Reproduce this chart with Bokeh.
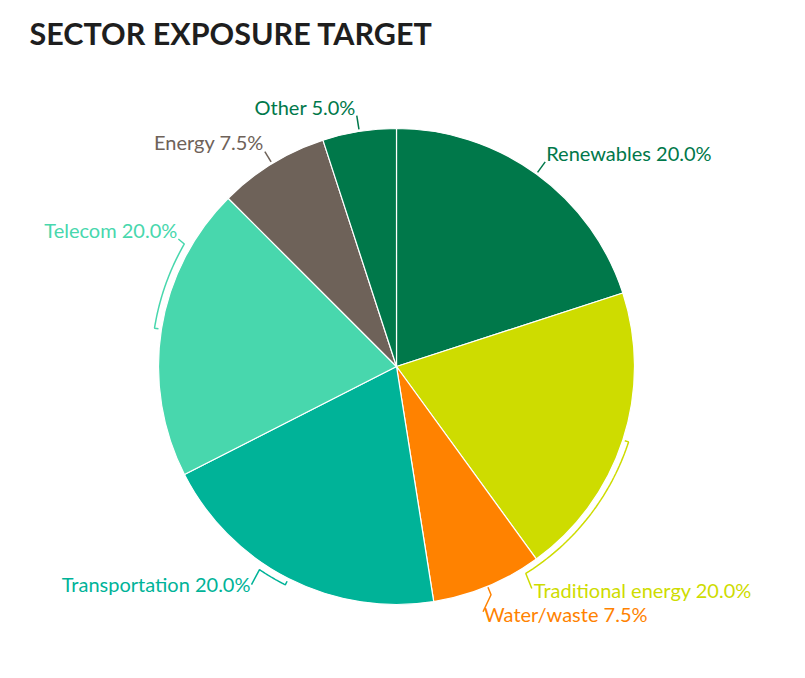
import math
from bokeh.plotting import figure
from bokeh.models import Range1d, ColumnDataSource
from bokeh.core.properties import value
from bokeh.embed import file_html
from bokeh.resources import INLINE

# ---- data ----
categories = ["Renewables", "Traditional energy", "Water/waste", "Transportation",
              "Telecom", "Energy", "Other"]
shares = [20.0, 20.0, 7.5, 20.0, 20.0, 7.5, 5.0]
title_text = "SECTOR EXPOSURE TARGET"

# ---- style ----
colors = ["#00784A", "#CEDC00", "#FF8200", "#00B398", "#48D7AD", "#6E6259", "#00784A"]
W, H = 789, 662
CX, CY, R = 396, 296, 238
FONT = "Lato"
LABEL_RAISE = 9
TITLE_RAISE = 13

# connector layout per slice: radial tick r0->r1 at mid angle, optional arc to angle,
# optional tail offset, then label offset and alignment
conn = [
    dict(r0=240, r1=253, arc=None, tail=None, lab=(1, 0), align="left"),
    dict(r0=240, r1=244, arc=-58, tail=(6, -15), lab=(2, -11), align="left"),
    dict(r0=239, r1=247, arc=None, tail=(-8, -17), lab=(1, -11), align="left"),
    dict(r0=241, r1=245, arc=-124, tail=(-8, -15), lab=(-1, -8), align="right"),
    dict(r0=241, r1=245, arc=150, tail=(-6, 5), lab=(-1, 0), align="right"),
    dict(r0=240, r1=252, arc=None, tail=None, lab=(-1, 1), align="right"),
    dict(r0=240, r1=254, arc=None, tail=None, lab=(-1, 0), align="right"),
]

total = sum(shares)
starts, ends, mids = [], [], []
cum = 0.0
for v in shares:
    a0 = 90 - 360 * cum / total
    cum += v
    a1 = 90 - 360 * cum / total
    starts.append(a1)
    ends.append(a0)
    mids.append((a0 + a1) / 2)

src = ColumnDataSource(dict(
    cat=categories, share=shares, color=colors,
    start=[math.radians(a) for a in starts],
    end=[math.radians(a) for a in ends],
))

p = figure(width=W, height=H, x_range=Range1d(0, W), y_range=Range1d(0, H),
           x_axis_type=None, y_axis_type=None, toolbar_location=None,
           output_backend="svg", min_border=0)
p.grid.visible = False
p.outline_line_color = None
p.background_fill_color = "white"

p.wedge(x=CX, y=CY, radius=R, start_angle="start", end_angle="end",
        color="color", line_color="white", line_width=1.2, source=src)


def polar(r, deg):
    return CX + r * math.cos(math.radians(deg)), CY + r * math.sin(math.radians(deg))


lx, ly, ltxt, lcol, lalign = [], [], [], [], []
for i, c in enumerate(conn):
    m = mids[i]
    pts = [polar(c["r0"], m), polar(c["r1"], m)]
    if c["arc"] is not None:
        d = (c["arc"] - m + 180) % 360 - 180
        n = 40
        for k in range(1, n + 1):
            pts.append(polar(c["r1"], m + d * k / n))
    if c["tail"] is not None:
        x, y = pts[-1]
        pts.append((x + c["tail"][0], y + c["tail"][1]))
    xs = [q[0] for q in pts]
    ys = [q[1] for q in pts]
    p.line(xs, ys, line_color=colors[i], line_width=1.5)
    ex, ey = pts[-1]
    lx.append(ex + c["lab"][0])
    ly.append(ey + c["lab"][1] + LABEL_RAISE)
    ltxt.append(f"{categories[i]} {shares[i]:.1f}%")
    lcol.append(colors[i])
    lalign.append(c["align"])

lsrc = ColumnDataSource(dict(x=lx, y=ly, text=ltxt, color=lcol, align=lalign))
p.text(x="x", y="y", text="text", text_color="color", text_align="align",
       text_baseline="alphabetic", text_font=value(FONT), text_font_size="20px",
       source=lsrc)

p.text(x=[29], y=[H - 45 + TITLE_RAISE], text=[title_text], text_color="#1e1e1e",
       text_baseline="alphabetic", text_align="left", text_font=value(FONT),
       text_font_style="bold", text_font_size="30.5px")

open("out.html", "w").write(file_html(p, INLINE))
